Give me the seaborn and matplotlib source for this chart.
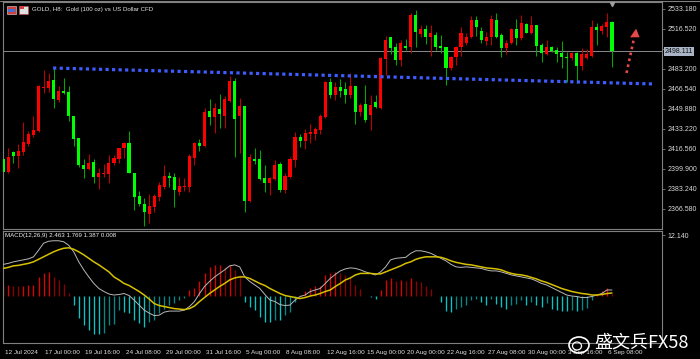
import numpy as np
import pandas as pd
import matplotlib
matplotlib.use("Agg")
import matplotlib.pyplot as plt
import matplotlib.transforms as mtransforms
import seaborn as sns
from matplotlib.patches import Rectangle, Polygon, Ellipse

# ---------------- data ----------------
opens = [
    2408.2, 2397.4, 2414.1, 2410.7, 2414.1, 2420.7, 2428.2, 2431.6, 2467.4, 2467.4,
    2474.0, 2457.4, 2464.9, 2464.0, 2444.1, 2425.7, 2403.2, 2399.9, 2405.7, 2393.2,
    2395.7, 2395.7, 2404.9, 2408.2, 2417.4, 2421.6, 2396.6, 2377.4, 2370.7, 2362.4,
    2368.2, 2376.6, 2384.9, 2394.1, 2393.2, 2380.7, 2384.9, 2384.9, 2409.1, 2421.6,
    2419.1, 2448.2, 2443.2, 2449.9, 2444.1, 2456.6, 2473.2, 2444.1, 2452.4, 2373.2,
    2408.2, 2408.2, 2392.4, 2388.2, 2391.6, 2404.1, 2382.4, 2393.2, 2407.4, 2426.6,
    2423.2, 2429.1, 2429.1, 2432.4, 2443.2, 2472.4, 2461.5, 2468.2, 2466.5, 2461.5,
    2469.0, 2447.4, 2454.1, 2444.9, 2455.7, 2450.7, 2491.5, 2509.9, 2501.5, 2490.7,
    2502.4, 2501.5, 2528.2, 2512.4, 2516.5, 2509.9, 2511.5, 2502.4, 2501.5, 2484.0,
    2493.2, 2501.5, 2504.9, 2509.9, 2524.0, 2514.9, 2506.5, 2509.9, 2524.0, 2511.5,
    2500.7, 2504.9, 2516.5, 2509.0, 2520.7, 2513.2, 2519.9, 2503.2, 2495.7, 2501.5,
    2499.0, 2496.5, 2493.2, 2492.4, 2496.5, 2485.7, 2492.4, 2494.0, 2518.2, 2514.9,
    2518.2, 2522.4]
highs = [
    2408.5, 2417.4, 2414.9, 2420.7, 2439.1, 2431.6, 2444.1, 2469.9, 2482.4, 2480.0,
    2484.0, 2469.0, 2475.7, 2469.0, 2444.1, 2425.7, 2408.2, 2412.4, 2408.2, 2400.7,
    2404.1, 2411.6, 2411.6, 2417.4, 2422.4, 2431.6, 2396.6, 2381.6, 2375.7, 2379.1,
    2379.1, 2389.1, 2403.2, 2397.4, 2396.6, 2393.2, 2392.4, 2412.4, 2422.0, 2424.9,
    2450.7, 2458.2, 2454.9, 2462.4, 2460.7, 2477.4, 2475.7, 2459.1, 2452.4, 2412.4,
    2417.4, 2415.7, 2403.2, 2393.2, 2407.4, 2405.7, 2396.6, 2409.9, 2430.7, 2429.1,
    2433.2, 2437.4, 2434.9, 2445.7, 2473.2, 2475.7, 2472.4, 2474.9, 2472.4, 2479.9,
    2469.0, 2454.9, 2469.9, 2461.5, 2461.5, 2493.2, 2510.7, 2509.9, 2504.9, 2507.4,
    2508.2, 2529.9, 2532.4, 2519.9, 2519.9, 2519.9, 2514.0, 2511.5, 2501.5, 2494.0,
    2502.4, 2518.2, 2513.2, 2527.4, 2527.4, 2518.2, 2514.0, 2528.2, 2529.9, 2513.2,
    2507.4, 2517.4, 2524.9, 2528.2, 2521.5, 2527.4, 2519.9, 2504.9, 2507.4, 2502.4,
    2501.5, 2506.5, 2497.4, 2497.4, 2497.4, 2500.7, 2499.9, 2524.0, 2521.5, 2520.7,
    2529.9, 2523.2]
lows = [
    2396.6, 2396.6, 2404.9, 2400.7, 2411.6, 2419.1, 2426.6, 2430.7, 2463.2, 2464.0,
    2450.7, 2455.7, 2462.4, 2439.9, 2419.1, 2401.6, 2392.4, 2399.1, 2388.2, 2383.2,
    2393.2, 2388.2, 2403.2, 2404.9, 2409.1, 2396.6, 2365.7, 2369.1, 2352.4, 2354.9,
    2364.1, 2373.2, 2383.2, 2384.9, 2368.2, 2378.2, 2381.6, 2380.7, 2403.2, 2414.9,
    2418.2, 2436.6, 2429.9, 2434.1, 2434.1, 2455.7, 2409.9, 2413.2, 2364.1, 2372.4,
    2404.1, 2390.7, 2380.7, 2378.2, 2390.7, 2380.7, 2379.9, 2392.4, 2401.6, 2418.2,
    2416.6, 2421.6, 2424.1, 2429.1, 2442.4, 2459.1, 2457.4, 2459.9, 2454.9, 2459.1,
    2437.4, 2444.1, 2439.1, 2432.4, 2450.7, 2449.9, 2478.2, 2495.7, 2486.5, 2485.7,
    2499.0, 2496.5, 2501.5, 2509.9, 2504.0, 2494.0, 2499.0, 2496.5, 2469.9, 2482.4,
    2486.5, 2494.0, 2503.2, 2509.0, 2510.7, 2504.9, 2503.2, 2503.2, 2509.0, 2493.2,
    2495.7, 2504.0, 2503.2, 2507.4, 2513.2, 2512.4, 2494.0, 2489.0, 2494.9, 2497.4,
    2489.0, 2484.0, 2472.4, 2490.7, 2471.5, 2482.4, 2491.5, 2493.2, 2503.2, 2512.4,
    2509.9, 2484.9]
closes = [
    2397.4, 2409.9, 2410.7, 2414.9, 2422.4, 2429.1, 2432.4, 2469.0, 2468.2, 2473.2,
    2458.2, 2464.9, 2463.2, 2444.1, 2424.9, 2403.2, 2399.9, 2404.9, 2393.2, 2396.6,
    2396.6, 2404.9, 2409.1, 2417.4, 2421.6, 2396.6, 2376.6, 2370.7, 2364.1, 2369.1,
    2377.4, 2386.6, 2394.1, 2392.4, 2382.4, 2385.7, 2385.7, 2410.7, 2421.6, 2419.1,
    2447.4, 2443.2, 2450.7, 2445.7, 2458.2, 2473.2, 2441.6, 2452.4, 2373.2, 2409.9,
    2406.6, 2391.6, 2388.2, 2392.4, 2403.2, 2382.4, 2394.1, 2408.2, 2426.6, 2423.2,
    2429.9, 2430.7, 2433.2, 2444.1, 2472.4, 2461.5, 2468.2, 2464.9, 2461.5, 2469.0,
    2447.4, 2453.2, 2440.7, 2453.2, 2451.5, 2492.4, 2507.4, 2500.7, 2490.7, 2504.9,
    2500.7, 2528.2, 2514.0, 2516.5, 2509.9, 2513.2, 2501.5, 2500.7, 2484.0, 2493.2,
    2501.5, 2513.2, 2509.9, 2524.0, 2518.2, 2507.4, 2509.9, 2524.9, 2509.9, 2500.7,
    2504.9, 2516.5, 2509.0, 2521.5, 2513.2, 2519.9, 2502.4, 2496.5, 2501.5, 2498.2,
    2495.7, 2493.2, 2492.4, 2496.5, 2485.7, 2495.7, 2495.7, 2518.2, 2515.7, 2519.0,
    2522.4, 2498.1]

macd_main = [
    6.3, 6.5, 6.8, 7.0, 7.2, 7.4, 7.8, 9.1, 10.5, 10.9,
    11.0, 11.0, 10.8, 10.1, 8.8, 6.8, 5.2, 3.8, 2.5, 1.5,
    0.9, 0.4, 0.2, 0.3, 0.5, 0.1, -0.8, -1.8, -2.8, -3.4,
    -3.9, -3.8, -3.2, -3.0, -3.0, -3.0, -2.8, -2.1, -1.1, 0.5,
    1.9, 2.9, 3.8, 4.5, 5.2, 6.0, 6.2, 5.8, 3.8, 2.9,
    2.2, 1.5, 0.3, -0.8, -1.1, -1.7, -1.9, -1.8, -0.8, -0.1,
    0.2, 0.9, 1.2, 1.5, 2.5, 3.5, 4.3, 5.0, 5.4, 5.6,
    5.5, 5.2, 4.8, 4.5, 4.2, 4.8, 5.8, 7.2, 7.5, 7.6,
    7.7, 8.5, 9.0, 9.0, 8.8, 8.5, 8.0, 7.5, 7.0, 6.3,
    5.8, 5.7, 5.8, 5.7, 5.6, 5.5, 5.2, 5.0, 5.0, 4.8,
    4.5, 4.2, 4.0, 3.8, 3.6, 3.4, 3.0, 2.5, 2.2, 1.7,
    1.2, 0.7, 0.2, 0.0, -0.1, -0.3, -0.3, -0.1, 0.2, 0.5,
    1.2, 1.2]
macd_signal = [
    5.5, 5.7, 6.0, 6.1, 6.3, 6.5, 6.8, 7.3, 7.8, 8.3,
    8.8, 9.2, 9.5, 9.6, 9.3, 8.8, 8.2, 7.5, 6.8, 6.2,
    5.5, 4.8, 3.8, 3.2, 2.5, 2.1, 1.5, 0.9, 0.2, -0.6,
    -1.5, -1.9, -2.1, -2.3, -2.5, -2.6, -2.7, -2.5, -2.0, -1.1,
    -0.3, 0.5, 1.2, 1.9, 2.5, 3.2, 3.6, 3.8, 3.8, 3.5,
    3.0, 2.5, 2.1, 1.5, 1.0, 0.5, 0.1, -0.1, -0.3, -0.5,
    -0.3, 0.0, 0.2, 0.5, 0.9, 1.2, 1.9, 2.5, 3.2, 3.6,
    4.2, 4.5, 4.5, 4.5, 4.4, 4.4, 4.8, 5.2, 5.6, 6.0,
    6.5, 6.8, 7.3, 7.6, 7.8, 7.8, 7.8, 7.7, 7.4, 7.0,
    6.7, 6.5, 6.3, 6.2, 6.0, 5.8, 5.6, 5.5, 5.4, 5.2,
    4.8, 4.5, 4.3, 4.2, 4.0, 3.7, 3.4, 3.0, 2.7, 2.3,
    1.9, 1.5, 1.2, 0.9, 0.7, 0.5, 0.4, 0.2, 0.2, 0.3,
    0.5, 0.6]
macd_hist = [
    2.2, 2.2, 2.0, 1.9, 2.0, 2.2, 2.2, 3.8, 4.5, 4.8,
    3.8, 3.2, 2.3, 0.7, -1.8, -4.4, -5.8, -6.8, -7.6, -7.6,
    -7.4, -5.8, -5.6, -2.8, -3.1, -3.4, -4.8, -5.4, -6.1, -5.1,
    -4.8, -3.4, -2.5, -1.8, -1.3, -0.8, -0.3, 1.2, 1.5, 2.9,
    4.5, 5.8, 6.2, 6.2, 5.8, 6.2, 5.2, 4.2, -1.1, -2.1,
    -2.8, -4.1, -5.1, -5.1, -4.8, -4.8, -3.8, -3.1, -1.1, 0.2,
    0.9, 1.5, 1.9, 1.9, 4.2, 4.5, 4.8, 4.5, 4.2, 3.5,
    2.2, 1.4, 0.05, -0.1, -0.6, 1.2, 3.2, 3.5, 2.9, 3.2,
    2.9, 3.6, 3.0, 2.7, 1.9, 1.3, 0.05, -1.1, -3.0, -3.1,
    -2.5, -2.1, -1.8, -0.8, -0.6, -1.1, -1.7, -0.6, -1.5, -2.1,
    -2.5, -1.8, -1.5, -0.8, -1.7, -1.1, -1.8, -2.1, -1.3, -2.5,
    -2.8, -3.0, -3.0, -2.8, -3.0, -2.8, -2.3, -0.8, 0.5, 0.9,
    1.5, 0.5]

price_ticks = [2366.58, 2383.24, 2399.90, 2416.56, 2433.22, 2449.88,
               2466.54, 2483.20, 2499.86, 2516.52, 2533.18]
time_label_pos = [1, 9, 17, 25, 33, 41, 49, 57, 65, 73, 81, 89, 97, 105, 113, 121]
time_labels = ["12 Jul 2024", "17 Jul 00:00", "19 Jul 16:00", "24 Jul 08:00",
               "29 Jul 00:00", "31 Jul 16:00", "5 Aug 00:00", "8 Aug 08:00",
               "12 Aug 16:00", "15 Aug 00:00", "20 Aug 00:00", "22 Aug 16:00",
               "27 Aug 08:00", "30 Aug 00:00", "3 Sep 16:00", "6 Sep 08:00"]
bid_price = 2498.111
trend_x = [10.9, 130.5]
trend_y = [2484.0, 2470.7]
arrow_x = [124.9, 126.4]
arrow_y = [2479.9, 2509.0]
arrow_head_x = [126.8, 125.6, 127.5]
arrow_head_y = [2516.8, 2509.6, 2509.6]

# ---------------- figure ----------------
sns.set_theme(style="dark")
plt.rcParams['font.family'] = ['Liberation Sans', 'DejaVu Sans']
plt.rcParams['axes.facecolor'] = 'black'

W, H = 700, 359
fig = plt.figure(figsize=(7, 3.59), dpi=100, facecolor='black')


def fx(px):
    return px / W


def fy(py):
    return 1 - py / H


ax = fig.add_axes([fx(3), fy(229), fx(662) - fx(3), fy(2) - fy(229)])
axm = fig.add_axes([fx(3), fy(343), fx(662) - fx(3), fy(231) - fy(343)])

df = pd.DataFrame({"i": np.arange(1, len(opens) + 1), "o": opens, "h": highs,
                   "l": lows, "c": closes})
df["up"] = df["c"] >= df["o"]
body_col = np.where(df["up"], "#ff0000", "#00ff00")
wick_col = np.where(df["up"], "#c00000", "#00a800")

GRID = "#808080"
SMALL = 4.4
AXLAB = 5.0
for a in (ax, axm):
    a.set_facecolor("black")
    a.grid(False)
    for s in a.spines.values():
        s.set_color(GRID)
        s.set_linewidth(0.8)
    a.set_xlim(0.94, 131.95)

# bid line
ax.axhline(bid_price, color="#8a8a8a", lw=0.7, zorder=1)

# candles
ax.vlines(df["i"], df["l"], df["h"], colors=wick_col, lw=0.75, zorder=2)
body_bottom = np.minimum(df["o"], df["c"])
body_h = np.maximum(np.abs(df["c"] - df["o"]), 0.8)
ax.bar(df["i"], body_h, bottom=body_bottom, width=0.62, color=body_col,
       linewidth=0, zorder=3)

# trend line (blue dotted)
ax.plot(trend_x, trend_y, color="#3f5cff", lw=2.3, linestyle=(0, (1.0, 1.05)),
        dash_capstyle="butt", zorder=4)
# red dotted arrow
ax.plot(arrow_x, arrow_y, color="#e84848", lw=1.9, linestyle=(0, (1.0, 1.3)),
        dash_capstyle="butt", zorder=4)
ax.add_patch(Polygon(list(zip(arrow_head_x, arrow_head_y)), closed=True,
                     color="#e84848", lw=0, zorder=4))
# shift marker
ax.plot([122], [2537.0], marker="v", color="#a0a0a0", ms=3, zorder=5)

ax.set_ylim(2349.9, 2539.0)
ax.yaxis.tick_right()
ax.set_yticks(price_ticks)
# the 2499.860 label sits under the current-price box in the reference
ax.set_yticklabels(["" if abs(t - bid_price) < 5 else f"{t:.3f}"
                    for t in price_ticks])
ax.tick_params(axis="y", colors="#d8d8d8", labelsize=AXLAB, length=2.5,
               width=0.6, pad=1.5, direction="out")
ax.tick_params(axis="y", color=GRID)
ax.set_xticks([])

# price label box
fig.text(fx(665), fy(51.5), f"{bid_price:.3f}", fontsize=AXLAB, color="#111111",
         ha="left", va="center",
         bbox=dict(facecolor="#aab6c8", edgecolor="none", pad=0.8))

# ---------------- MACD ----------------
mdf = pd.DataFrame({"i": df["i"], "main": macd_main, "signal": macd_signal,
                    "hist": macd_hist})
h = np.array(macd_hist)
prev = np.concatenate([[h[0]], h[:-1]])
hcol = np.where(h >= 0,
                np.where(h >= prev, "#e00000", "#8b0000"),
                np.where(h <= prev, "#00c8c8", "#008b8b"))
axm.vlines(mdf["i"], 0, mdf["hist"], colors=hcol, lw=0.95, zorder=2)
sns.lineplot(data=mdf, x="i", y="main", ax=axm, color="#b8b8b8", lw=0.7,
             zorder=3)
sns.lineplot(data=mdf, x="i", y="signal", ax=axm, color="#d6c000", lw=1.1,
             zorder=4)
axm.set_ylim(-9.35, 12.94)
axm.set_xlabel("")
axm.set_ylabel("")
axm.yaxis.tick_right()
axm.set_yticks([12.14])
axm.set_yticklabels(["12.140"])
axm.tick_params(axis="y", colors="#d8d8d8", labelsize=AXLAB, length=2.5,
                width=0.6, pad=1.5)
axm.tick_params(axis="y", color=GRID)
axm.set_xticks(time_label_pos)
axm.set_xticklabels(time_labels)
axm.tick_params(axis="x", colors="#e0e0e0", labelsize=4.6, length=3,
                width=0.6, pad=2.3, direction="out")
axm.tick_params(axis="x", color=GRID)
offset = mtransforms.ScaledTranslation(1.5 / 100, 0, fig.dpi_scale_trans)
for lab in axm.get_xticklabels():
    lab.set_horizontalalignment("left")
    lab.set_transform(lab.get_transform() + offset)

fig.text(fx(5), fy(236), "MACD(12,26,9) 2.463 1.769 1.387 0.008",
         fontsize=SMALL, color="#f0f0f0", ha="left", va="center")

# header
fig.add_artist(Rectangle((fx(7), fy(14)), fx(9), fy(6) - fy(14),
                         facecolor="#d04040", edgecolor="#e0e0e0", lw=0.4))
fig.add_artist(Rectangle((fx(8), fy(12)), fx(7), fy(9) - fy(12),
                         facecolor="#4070d0", edgecolor="none"))
fig.add_artist(Rectangle((fx(19), fy(14)), fx(9), fy(6) - fy(14),
                         facecolor="#e0e0e0", edgecolor="#d04040", lw=0.4))
fig.add_artist(Rectangle((fx(20), fy(9)), fx(4), fy(6) - fy(9),
                         facecolor="#d04040", edgecolor="none"))
fig.text(fx(32), fy(10), "GOLD, H8:  Gold (100 oz) vs US Dollar CFD",
         fontsize=SMALL, color="#e6e6e6", ha="left", va="center")

# top window border
fig.add_artist(plt.Line2D([0, 1], [fy(1), fy(1)], color=GRID, lw=0.8))

# watermark
fig.add_artist(Ellipse((fx(579), fy(345)), fx(20), fy(337) - fy(353),
                       facecolor="none", edgecolor="white", lw=1.2))
fig.add_artist(Ellipse((fx(577), fy(346)), fx(9), fy(342) - fy(350),
                       facecolor="none", edgecolor="white", lw=0.9))
fig.text(fx(594), fy(343), "盛文兵FX58", fontsize=13, color="white",
         ha="left", va="center",
         family=["Noto Sans CJK SC", "DejaVu Sans"])

fig.savefig("out.png", dpi=100, facecolor="black")
